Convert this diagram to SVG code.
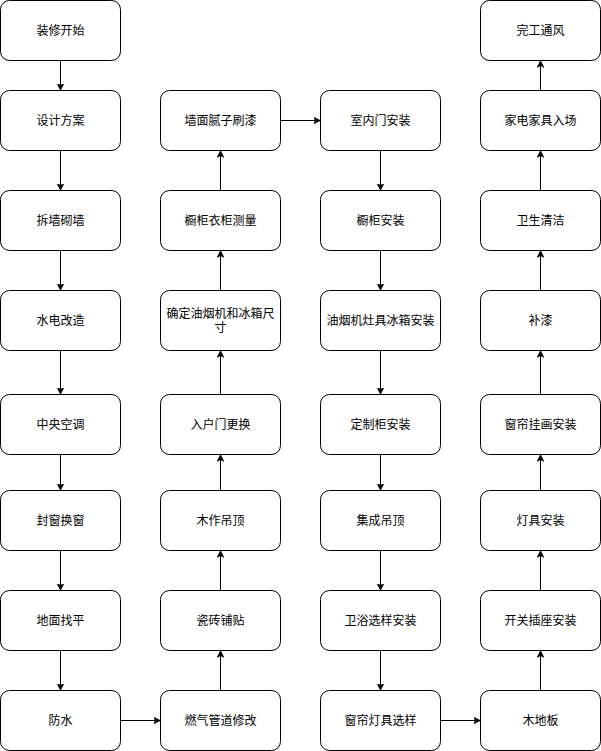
<svg xmlns="http://www.w3.org/2000/svg" width="601" height="751" viewBox="0 0 601 751">
<style>
.box{fill:#ffffff;stroke:#000000;stroke-width:1}
.lbl{font-family:"Liberation Sans","Noto Sans CJK SC",sans-serif;font-size:12px;fill:#000000;text-anchor:middle}
.edge{fill:none;stroke:#000000;stroke-width:1;marker-end:url(#arr)}
</style>
<defs>
<marker id="arr" markerUnits="userSpaceOnUse" markerWidth="7" markerHeight="7" viewBox="0 0 7 7" refX="7" refY="3.5" orient="auto">
<path d="M0,0 L7,3.5 L0,7 L1.75,3.5 Z" fill="#000000" stroke="#000000" stroke-width="0.5"/>
</marker>
</defs>
<rect width="601" height="751" fill="#ffffff"/>
<g id="connectors">
<path class="edge" d="M60.5,60.5 V90.5"/>
<path class="edge" d="M60.5,150.5 V190.5"/>
<path class="edge" d="M60.5,250.5 V290.5"/>
<path class="edge" d="M60.5,350.5 V394.5"/>
<path class="edge" d="M60.5,454.5 V490.5"/>
<path class="edge" d="M60.5,550.5 V590.5"/>
<path class="edge" d="M60.5,650.5 V690.5"/>
<path class="edge" d="M120.5,720.5 H160.5"/>
<path class="edge" d="M220.5,690.5 V650.5"/>
<path class="edge" d="M220.5,590.5 V550.5"/>
<path class="edge" d="M220.5,490.5 V454.5"/>
<path class="edge" d="M220.5,394.5 V350.5"/>
<path class="edge" d="M220.5,290.5 V250.5"/>
<path class="edge" d="M220.5,190.5 V150.5"/>
<path class="edge" d="M280.5,120.5 H320.5"/>
<path class="edge" d="M380.5,150.5 V190.5"/>
<path class="edge" d="M380.5,250.5 V290.5"/>
<path class="edge" d="M380.5,350.5 V394.5"/>
<path class="edge" d="M380.5,454.5 V490.5"/>
<path class="edge" d="M380.5,550.5 V590.5"/>
<path class="edge" d="M380.5,650.5 V690.5"/>
<path class="edge" d="M440.5,720.5 H480.5"/>
<path class="edge" d="M540.5,690.5 V650.5"/>
<path class="edge" d="M540.5,590.5 V550.5"/>
<path class="edge" d="M540.5,490.5 V454.5"/>
<path class="edge" d="M540.5,394.5 V350.5"/>
<path class="edge" d="M540.5,290.5 V250.5"/>
<path class="edge" d="M540.5,190.5 V150.5"/>
<path class="edge" d="M540.5,90.5 V60.5"/>
</g>
<g id="n1"><rect class="box" x="0.5" y="0.5" width="120" height="60" rx="9"/><text class="lbl" x="60.5" y="34.5">装修开始</text></g>
<g id="n2"><rect class="box" x="0.5" y="90.5" width="120" height="60" rx="9"/><text class="lbl" x="60.5" y="124.5">设计方案</text></g>
<g id="n3"><rect class="box" x="0.5" y="190.5" width="120" height="60" rx="9"/><text class="lbl" x="60.5" y="224.5">拆墙砌墙</text></g>
<g id="n4"><rect class="box" x="0.5" y="290.5" width="120" height="60" rx="9"/><text class="lbl" x="60.5" y="324.5">水电改造</text></g>
<g id="n5"><rect class="box" x="0.5" y="394.5" width="120" height="60" rx="9"/><text class="lbl" x="60.5" y="428.5">中央空调</text></g>
<g id="n6"><rect class="box" x="0.5" y="490.5" width="120" height="60" rx="9"/><text class="lbl" x="60.5" y="524.5">封窗换窗</text></g>
<g id="n7"><rect class="box" x="0.5" y="590.5" width="120" height="60" rx="9"/><text class="lbl" x="60.5" y="624.5">地面找平</text></g>
<g id="n8"><rect class="box" x="0.5" y="690.5" width="120" height="60" rx="9"/><text class="lbl" x="60.5" y="724.5">防水</text></g>
<g id="n9"><rect class="box" x="160.5" y="690.5" width="120" height="60" rx="9"/><text class="lbl" x="220.5" y="724.5">燃气管道修改</text></g>
<g id="n10"><rect class="box" x="160.5" y="590.5" width="120" height="60" rx="9"/><text class="lbl" x="220.5" y="624.5">瓷砖铺贴</text></g>
<g id="n11"><rect class="box" x="160.5" y="490.5" width="120" height="60" rx="9"/><text class="lbl" x="220.5" y="524.5">木作吊顶</text></g>
<g id="n12"><rect class="box" x="160.5" y="394.5" width="120" height="60" rx="9"/><text class="lbl" x="220.5" y="428.5">入户门更换</text></g>
<g id="n13"><rect class="box" x="160.5" y="290.5" width="120" height="60" rx="9"/><text class="lbl" x="220.5" y="317.5">确定油烟机和冰箱尺</text><text class="lbl" x="220.5" y="331.5">寸</text></g>
<g id="n14"><rect class="box" x="160.5" y="190.5" width="120" height="60" rx="9"/><text class="lbl" x="220.5" y="224.5">橱柜衣柜测量</text></g>
<g id="n15"><rect class="box" x="160.5" y="90.5" width="120" height="60" rx="9"/><text class="lbl" x="220.5" y="124.5">墙面腻子刷漆</text></g>
<g id="n16"><rect class="box" x="320.5" y="90.5" width="120" height="60" rx="9"/><text class="lbl" x="380.5" y="124.5">室内门安装</text></g>
<g id="n17"><rect class="box" x="320.5" y="190.5" width="120" height="60" rx="9"/><text class="lbl" x="380.5" y="224.5">橱柜安装</text></g>
<g id="n18"><rect class="box" x="320.5" y="290.5" width="120" height="60" rx="9"/><text class="lbl" x="380.5" y="324.5">油烟机灶具冰箱安装</text></g>
<g id="n19"><rect class="box" x="320.5" y="394.5" width="120" height="60" rx="9"/><text class="lbl" x="380.5" y="428.5">定制柜安装</text></g>
<g id="n20"><rect class="box" x="320.5" y="490.5" width="120" height="60" rx="9"/><text class="lbl" x="380.5" y="524.5">集成吊顶</text></g>
<g id="n21"><rect class="box" x="320.5" y="590.5" width="120" height="60" rx="9"/><text class="lbl" x="380.5" y="624.5">卫浴选样安装</text></g>
<g id="n22"><rect class="box" x="320.5" y="690.5" width="120" height="60" rx="9"/><text class="lbl" x="380.5" y="724.5">窗帘灯具选样</text></g>
<g id="n23"><rect class="box" x="480.5" y="690.5" width="120" height="60" rx="9"/><text class="lbl" x="540.5" y="724.5">木地板</text></g>
<g id="n24"><rect class="box" x="480.5" y="590.5" width="120" height="60" rx="9"/><text class="lbl" x="540.5" y="624.5">开关插座安装</text></g>
<g id="n25"><rect class="box" x="480.5" y="490.5" width="120" height="60" rx="9"/><text class="lbl" x="540.5" y="524.5">灯具安装</text></g>
<g id="n26"><rect class="box" x="480.5" y="394.5" width="120" height="60" rx="9"/><text class="lbl" x="540.5" y="428.5">窗帘挂画安装</text></g>
<g id="n27"><rect class="box" x="480.5" y="290.5" width="120" height="60" rx="9"/><text class="lbl" x="540.5" y="324.5">补漆</text></g>
<g id="n28"><rect class="box" x="480.5" y="190.5" width="120" height="60" rx="9"/><text class="lbl" x="540.5" y="224.5">卫生清洁</text></g>
<g id="n29"><rect class="box" x="480.5" y="90.5" width="120" height="60" rx="9"/><text class="lbl" x="540.5" y="124.5">家电家具入场</text></g>
<g id="n30"><rect class="box" x="480.5" y="0.5" width="120" height="60" rx="9"/><text class="lbl" x="540.5" y="34.5">完工通风</text></g>
</svg>
